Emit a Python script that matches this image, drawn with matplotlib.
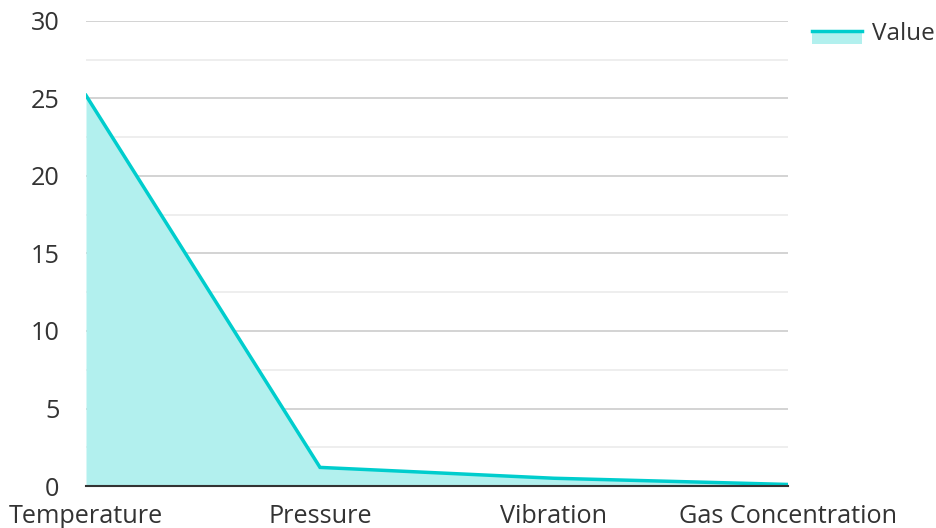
import matplotlib
matplotlib.use("Agg")
import matplotlib.pyplot as plt
from matplotlib.legend_handler import HandlerBase
from matplotlib.patches import Rectangle
from matplotlib.lines import Line2D
import numpy as np

categories = ["Temperature", "Pressure", "Vibration", "Gas Concentration"]
values = [25.2, 1.2, 0.5, 0.1]
series_name = "Value"
yticks = [0, 5, 10, 15, 20, 25, 30]

LINE = "#00CDCD"
FILL = "#B2F0EE"
FS = 18.2
LFS = 17.5

plt.rcParams['font.family'] = ['Open Sans', 'DejaVu Sans']

fig = plt.figure(figsize=(9.37, 5.28), dpi=100)
ax = fig.add_axes([86/937, 1-486/528, (788-86)/937, (486-21)/528])

x = np.arange(len(categories))
ax.fill_between(x, values, 0, color=FILL, linewidth=0, zorder=2)
ax.plot(x, values, color=LINE, linewidth=2.5, zorder=3, solid_joinstyle='miter')

ax.set_xlim(0, len(categories)-1)
ax.set_ylim(0, 30)
ax.set_yticks(yticks)
ax.set_yticks([2.5, 7.5, 12.5, 17.5, 22.5, 27.5], minor=True)
ax.grid(which='major', axis='y', color='#CCCCCC', linewidth=1.2, zorder=1)
ax.grid(which='minor', axis='y', color='#EBEBEB', linewidth=1.2, zorder=1)
ax.set_xticks(x)
ax.set_xticklabels(categories)
ax.tick_params(axis='both', length=0, labelsize=FS, colors='#333333')
ax.tick_params(axis='y', pad=19)
ax.tick_params(axis='x', pad=13)
ax.tick_params(which='minor', length=0)
for s in ['top', 'right', 'left']:
    ax.spines[s].set_visible(False)
ax.spines['bottom'].set_color('#333333')
ax.spines['bottom'].set_linewidth(1.5)
ax.spines['bottom'].set_zorder(4)


class AreaHandler(HandlerBase):
    def create_artists(self, legend, orig_handle, xdescent, ydescent, width, height, fontsize, trans):
        y0 = -ydescent
        r = Rectangle((-xdescent, y0 - height*0.25), width, height*0.75, facecolor=FILL, edgecolor='none', transform=trans)
        l = Line2D([-xdescent, -xdescent+width], [y0 + height*0.5]*2, color=LINE, linewidth=2.5, transform=trans)
        return [r, l]

handle = Rectangle((0, 0), 1, 1)
leg = fig.legend([handle], [series_name], handler_map={Rectangle: AreaHandler()},
                 loc='center left', bbox_to_anchor=(812/937, 1-34/528), frameon=False,
                 fontsize=LFS, handlelength=2.06, handletextpad=0.41, borderaxespad=0, borderpad=0)
for t in leg.get_texts():
    t.set_color('#333333')

fig.savefig("out.png", dpi=100)
